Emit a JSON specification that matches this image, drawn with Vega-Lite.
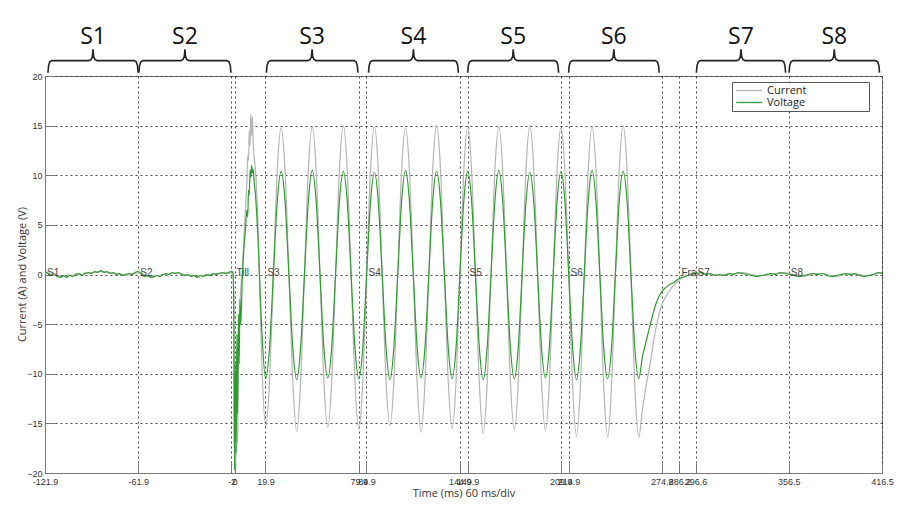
{
  "$schema": "https://vega.github.io/schema/vega-lite/v6.json",
  "autosize": {"type": "none"},
  "padding": {"left": 45, "top": 76, "right": 38, "bottom": 36},
  "width": 837,
  "height": 397,
  "background": "white",
  "datasets": {
    "waves": [
      {"t": -121.9, "Current": 0.3, "Voltage": 0.3},
      {"t": -120, "Current": 0.2, "Voltage": 0.1},
      {"t": -118, "Current": 0, "Voltage": -0.1},
      {"t": -116, "Current": -0.1, "Voltage": 0.1},
      {"t": -114, "Current": -0.1, "Voltage": -0.2},
      {"t": -112, "Current": -0.2, "Voltage": -0.3},
      {"t": -110, "Current": -0.2, "Voltage": -0.1},
      {"t": -108, "Current": -0.2, "Voltage": -0.3},
      {"t": -106, "Current": 0, "Voltage": -0.1},
      {"t": -104, "Current": -0.1, "Voltage": -0.2},
      {"t": -102, "Current": 0.1, "Voltage": 0},
      {"t": -100, "Current": 0, "Voltage": 0.1},
      {"t": -98, "Current": 0, "Voltage": -0.1},
      {"t": -96, "Current": 0.2, "Voltage": 0.1},
      {"t": -94, "Current": 0.1, "Voltage": 0.2},
      {"t": -92, "Current": 0.2, "Voltage": 0.1},
      {"t": -90, "Current": 0.2, "Voltage": 0.3},
      {"t": -88, "Current": 0.3, "Voltage": 0.2},
      {"t": -86, "Current": 0.3, "Voltage": 0.4},
      {"t": -84, "Current": 0.3, "Voltage": 0.2},
      {"t": -82, "Current": 0.2, "Voltage": 0.3},
      {"t": -80, "Current": 0.2, "Voltage": 0.1},
      {"t": -78, "Current": 0.1, "Voltage": 0.2},
      {"t": -76, "Current": 0.1, "Voltage": 0},
      {"t": -74, "Current": 0, "Voltage": 0.1},
      {"t": -72, "Current": 0, "Voltage": -0.1},
      {"t": -70, "Current": -0.1, "Voltage": 0},
      {"t": -68, "Current": 0, "Voltage": 0.1},
      {"t": -66, "Current": 0.1, "Voltage": 0},
      {"t": -64, "Current": 0.1, "Voltage": 0.2},
      {"t": -62, "Current": 0.2, "Voltage": 0.3},
      {"t": -60, "Current": 0.2, "Voltage": 0.1},
      {"t": -58, "Current": -0.1, "Voltage": -0.2},
      {"t": -56, "Current": -0.2, "Voltage": -0.1},
      {"t": -54, "Current": -0.2, "Voltage": -0.3},
      {"t": -52, "Current": -0.3, "Voltage": -0.2},
      {"t": -50, "Current": -0.1, "Voltage": -0.1},
      {"t": -48, "Current": -0.1, "Voltage": -0.2},
      {"t": -46, "Current": 0, "Voltage": 0},
      {"t": -44, "Current": 0, "Voltage": 0.1},
      {"t": -42, "Current": 0.1, "Voltage": 0},
      {"t": -40, "Current": 0.1, "Voltage": 0.2},
      {"t": -38, "Current": 0.2, "Voltage": 0.1},
      {"t": -36, "Current": 0.1, "Voltage": 0.2},
      {"t": -34, "Current": 0.1, "Voltage": 0},
      {"t": -32, "Current": 0, "Voltage": -0.1},
      {"t": -30, "Current": -0.1, "Voltage": 0},
      {"t": -28, "Current": -0.1, "Voltage": -0.2},
      {"t": -26, "Current": -0.2, "Voltage": -0.1},
      {"t": -24, "Current": -0.2, "Voltage": -0.3},
      {"t": -22, "Current": -0.1, "Voltage": -0.1},
      {"t": -20, "Current": -0.1, "Voltage": -0.2},
      {"t": -18, "Current": 0, "Voltage": 0},
      {"t": -16, "Current": 0, "Voltage": -0.1},
      {"t": -14, "Current": 0, "Voltage": 0.1},
      {"t": -12, "Current": 0.1, "Voltage": 0},
      {"t": -10, "Current": 0.1, "Voltage": 0.1},
      {"t": -8, "Current": 0.1, "Voltage": 0.2},
      {"t": -6, "Current": 0.2, "Voltage": 0.1},
      {"t": -4, "Current": 0.1, "Voltage": 0.2},
      {"t": -2, "Current": 0.2, "Voltage": 0.3},
      {"t": -1, "Current": 0.3, "Voltage": 0.2},
      {"t": -0.5, "Current": -2.0, "Voltage": -3.0},
      {"t": 0, "Current": -19.8, "Voltage": -19.6},
      {"t": 0.5, "Current": -14.0, "Voltage": -9.0},
      {"t": 1, "Current": -19.5, "Voltage": -18.0},
      {"t": 1.5, "Current": -9.0, "Voltage": -6.0},
      {"t": 2, "Current": -17.0, "Voltage": -14.0},
      {"t": 2.5, "Current": -7.0, "Voltage": -4.0},
      {"t": 3, "Current": -5.0, "Voltage": -9.0},
      {"t": 3.5, "Current": -3.0, "Voltage": -2.5},
      {"t": 4, "Current": -1.5, "Voltage": -5.0},
      {"t": 5, "Current": 0.5, "Voltage": -0.5},
      {"t": 6, "Current": 3.5, "Voltage": 2.5},
      {"t": 7, "Current": 6.5, "Voltage": 4.5},
      {"t": 8, "Current": 9.5, "Voltage": 6.5},
      {"t": 8.5, "Current": 12.0, "Voltage": 5.8},
      {"t": 9, "Current": 11.5, "Voltage": 8.5},
      {"t": 9.5, "Current": 14.5, "Voltage": 8.0},
      {"t": 10, "Current": 13.0, "Voltage": 10.5},
      {"t": 10.5, "Current": 16.2, "Voltage": 9.8},
      {"t": 11, "Current": 14.0, "Voltage": 11.0},
      {"t": 11.5, "Current": 15.9, "Voltage": 10.2},
      {"t": 12, "Current": 13.5, "Voltage": 10.6},
      {"t": 12.5, "Current": 12.0, "Voltage": 9.6},
      {"t": 13.5, "Current": 10.5, "Voltage": 8.0},
      {"t": 15, "Current": 5.5, "Voltage": 4.0},
      {"t": 17.5, "Current": -8.5, "Voltage": -5.5},
      {"t": 20, "Current": -15.3, "Voltage": -10.5},
      {"t": 22.5, "Current": -10.8, "Voltage": -7.4},
      {"t": 25, "Current": 0, "Voltage": 0},
      {"t": 27.5, "Current": 10.5, "Voltage": 7.4},
      {"t": 30, "Current": 14.8, "Voltage": 10.4},
      {"t": 32.5, "Current": 10.5, "Voltage": 7.4},
      {"t": 35, "Current": 0, "Voltage": 0},
      {"t": 37.5, "Current": -10.8, "Voltage": -7.4},
      {"t": 40, "Current": -15.8, "Voltage": -10.6},
      {"t": 42.5, "Current": -10.9, "Voltage": -7.4},
      {"t": 45, "Current": 0, "Voltage": 0},
      {"t": 47.5, "Current": 10.6, "Voltage": 7.4},
      {"t": 50, "Current": 14.9, "Voltage": 10.5},
      {"t": 52.5, "Current": 10.6, "Voltage": 7.4},
      {"t": 55, "Current": 0, "Voltage": 0},
      {"t": 57.5, "Current": -10.8, "Voltage": -7.4},
      {"t": 60, "Current": -15.4, "Voltage": -10.4},
      {"t": 62.5, "Current": -10.8, "Voltage": -7.4},
      {"t": 65, "Current": 0, "Voltage": 0},
      {"t": 67.5, "Current": 10.6, "Voltage": 7.4},
      {"t": 70, "Current": 15.0, "Voltage": 10.4},
      {"t": 72.5, "Current": 10.6, "Voltage": 7.4},
      {"t": 75, "Current": 0, "Voltage": 0},
      {"t": 77.5, "Current": -10.8, "Voltage": -7.4},
      {"t": 80, "Current": -15.6, "Voltage": -10.5},
      {"t": 82.5, "Current": -10.8, "Voltage": -7.4},
      {"t": 85, "Current": 0, "Voltage": 0},
      {"t": 87.5, "Current": 10.5, "Voltage": 7.3},
      {"t": 90, "Current": 14.9, "Voltage": 10.3},
      {"t": 92.5, "Current": 10.5, "Voltage": 7.3},
      {"t": 95, "Current": 0, "Voltage": 0},
      {"t": 97.5, "Current": -10.8, "Voltage": -7.4},
      {"t": 100, "Current": -15.2, "Voltage": -10.6},
      {"t": 102.5, "Current": -10.8, "Voltage": -7.4},
      {"t": 105, "Current": 0, "Voltage": 0},
      {"t": 107.5, "Current": 10.5, "Voltage": 7.4},
      {"t": 110, "Current": 14.8, "Voltage": 10.5},
      {"t": 112.5, "Current": 10.5, "Voltage": 7.4},
      {"t": 115, "Current": 0, "Voltage": 0},
      {"t": 117.5, "Current": -10.9, "Voltage": -7.4},
      {"t": 120, "Current": -15.9, "Voltage": -10.4},
      {"t": 122.5, "Current": -10.9, "Voltage": -7.4},
      {"t": 125, "Current": 0, "Voltage": 0},
      {"t": 127.5, "Current": 10.6, "Voltage": 7.4},
      {"t": 130, "Current": 15.0, "Voltage": 10.4},
      {"t": 132.5, "Current": 10.6, "Voltage": 7.4},
      {"t": 135, "Current": 0, "Voltage": 0},
      {"t": 137.5, "Current": -10.8, "Voltage": -7.4},
      {"t": 140, "Current": -15.5, "Voltage": -10.5},
      {"t": 142.5, "Current": -10.8, "Voltage": -7.4},
      {"t": 145, "Current": 0, "Voltage": 0},
      {"t": 147.5, "Current": 10.5, "Voltage": 7.4},
      {"t": 150, "Current": 14.9, "Voltage": 10.4},
      {"t": 152.5, "Current": 10.5, "Voltage": 7.4},
      {"t": 155, "Current": 0, "Voltage": 0},
      {"t": 157.5, "Current": -11.0, "Voltage": -7.4},
      {"t": 160, "Current": -16.0, "Voltage": -10.6},
      {"t": 162.5, "Current": -11.0, "Voltage": -7.4},
      {"t": 165, "Current": 0, "Voltage": 0},
      {"t": 167.5, "Current": 10.5, "Voltage": 7.4},
      {"t": 170, "Current": 14.9, "Voltage": 10.5},
      {"t": 172.5, "Current": 10.5, "Voltage": 7.4},
      {"t": 175, "Current": 0, "Voltage": 0},
      {"t": 177.5, "Current": -10.9, "Voltage": -7.4},
      {"t": 180, "Current": -15.6, "Voltage": -10.5},
      {"t": 182.5, "Current": -10.9, "Voltage": -7.4},
      {"t": 185, "Current": 0, "Voltage": 0},
      {"t": 187.5, "Current": 10.6, "Voltage": 7.3},
      {"t": 190, "Current": 15.0, "Voltage": 10.3},
      {"t": 192.5, "Current": 10.6, "Voltage": 7.3},
      {"t": 195, "Current": 0, "Voltage": 0},
      {"t": 197.5, "Current": -10.9, "Voltage": -7.4},
      {"t": 200, "Current": -15.7, "Voltage": -10.4},
      {"t": 202.5, "Current": -10.9, "Voltage": -7.4},
      {"t": 205, "Current": 0, "Voltage": 0},
      {"t": 207.5, "Current": 10.5, "Voltage": 7.4},
      {"t": 210, "Current": 14.8, "Voltage": 10.4},
      {"t": 212.5, "Current": 10.5, "Voltage": 7.4},
      {"t": 215, "Current": 0, "Voltage": 0},
      {"t": 217.5, "Current": -11.2, "Voltage": -7.4},
      {"t": 220, "Current": -16.3, "Voltage": -10.6},
      {"t": 222.5, "Current": -11.2, "Voltage": -7.4},
      {"t": 225, "Current": 0, "Voltage": 0},
      {"t": 227.5, "Current": 10.5, "Voltage": 7.4},
      {"t": 230, "Current": 14.9, "Voltage": 10.5},
      {"t": 232.5, "Current": 10.5, "Voltage": 7.4},
      {"t": 235, "Current": 0, "Voltage": 0},
      {"t": 237.5, "Current": -11.3, "Voltage": -7.4},
      {"t": 240, "Current": -16.4, "Voltage": -10.5},
      {"t": 242.5, "Current": -11.3, "Voltage": -7.4},
      {"t": 245, "Current": 0, "Voltage": 0},
      {"t": 247.5, "Current": 10.6, "Voltage": 7.4},
      {"t": 250, "Current": 15.0, "Voltage": 10.4},
      {"t": 252.5, "Current": 10.6, "Voltage": 7.4},
      {"t": 255, "Current": 0, "Voltage": 0},
      {"t": 257.5, "Current": -11.3, "Voltage": -7.4},
      {"t": 260, "Current": -16.4, "Voltage": -10.5},
      {"t": 262.5, "Current": -13.5, "Voltage": -8.2},
      {"t": 265, "Current": -11.0, "Voltage": -6.6},
      {"t": 267.5, "Current": -8.9, "Voltage": -5.0},
      {"t": 270, "Current": -6.3, "Voltage": -3.5},
      {"t": 272.5, "Current": -4.4, "Voltage": -2.4},
      {"t": 275, "Current": -3.0, "Voltage": -1.7},
      {"t": 277.5, "Current": -2.2, "Voltage": -1.3},
      {"t": 280, "Current": -1.6, "Voltage": -1.0},
      {"t": 282.5, "Current": -1.1, "Voltage": -0.8},
      {"t": 285, "Current": -0.7, "Voltage": -0.5},
      {"t": 287.5, "Current": -0.4, "Voltage": -0.3},
      {"t": 290, "Current": -0.2, "Voltage": -0.2},
      {"t": 292.5, "Current": -0.1, "Voltage": 0},
      {"t": 295, "Current": 0, "Voltage": 0.1},
      {"t": 297, "Current": 0, "Voltage": 0.1},
      {"t": 300, "Current": 0.1, "Voltage": 0.2},
      {"t": 303, "Current": 0.1, "Voltage": 0},
      {"t": 306, "Current": 0, "Voltage": 0.1},
      {"t": 309, "Current": 0, "Voltage": -0.1},
      {"t": 312, "Current": -0.1, "Voltage": 0},
      {"t": 315, "Current": 0, "Voltage": -0.1},
      {"t": 318, "Current": 0, "Voltage": 0.1},
      {"t": 321, "Current": 0.1, "Voltage": 0},
      {"t": 324, "Current": 0.1, "Voltage": 0.2},
      {"t": 327, "Current": 0.2, "Voltage": 0.1},
      {"t": 330, "Current": 0.1, "Voltage": 0},
      {"t": 333, "Current": 0, "Voltage": -0.1},
      {"t": 336, "Current": -0.1, "Voltage": -0.2},
      {"t": 339, "Current": -0.1, "Voltage": -0.1},
      {"t": 342, "Current": -0.1, "Voltage": 0},
      {"t": 345, "Current": 0, "Voltage": 0.1},
      {"t": 348, "Current": 0.1, "Voltage": 0},
      {"t": 351, "Current": 0.1, "Voltage": 0.2},
      {"t": 354, "Current": 0.2, "Voltage": 0.1},
      {"t": 357, "Current": 0.1, "Voltage": 0},
      {"t": 360, "Current": 0, "Voltage": -0.1},
      {"t": 363, "Current": -0.1, "Voltage": -0.2},
      {"t": 366, "Current": -0.2, "Voltage": -0.1},
      {"t": 369, "Current": -0.1, "Voltage": 0},
      {"t": 372, "Current": 0, "Voltage": 0.1},
      {"t": 375, "Current": 0.1, "Voltage": 0},
      {"t": 378, "Current": 0.1, "Voltage": 0.1},
      {"t": 381, "Current": 0, "Voltage": -0.1},
      {"t": 384, "Current": -0.1, "Voltage": -0.2},
      {"t": 387, "Current": -0.2, "Voltage": -0.1},
      {"t": 390, "Current": -0.1, "Voltage": 0},
      {"t": 393, "Current": 0, "Voltage": 0.1},
      {"t": 396, "Current": 0.1, "Voltage": 0},
      {"t": 399, "Current": 0, "Voltage": 0.1},
      {"t": 402, "Current": 0, "Voltage": -0.1},
      {"t": 405, "Current": -0.1, "Voltage": -0.2},
      {"t": 408, "Current": -0.1, "Voltage": -0.1},
      {"t": 411, "Current": 0, "Voltage": 0},
      {"t": 414, "Current": 0.1, "Voltage": 0.2},
      {"t": 416.5, "Current": 0.2, "Voltage": 0.1}
    ],
    "markers": [
      {"lab": "S1", "t": -121.9},
      {"lab": "S2", "t": -61.9},
      {"lab": "Till", "t": 0},
      {"lab": "S3", "t": 19.9},
      {"lab": "S4", "t": 84.9},
      {"lab": "S5", "t": 149.9},
      {"lab": "S6", "t": 214.9},
      {"lab": "Fra", "t": 286.2},
      {"lab": "S7", "t": 296.6},
      {"lab": "S8", "t": 356.5}
    ],
    "braceLabels": [
      {"lab": "S1", "t": -91},
      {"lab": "S2", "t": -31.9},
      {"lab": "S3", "t": 49.9},
      {"lab": "S4", "t": 115.1},
      {"lab": "S5", "t": 179.3},
      {"lab": "S6", "t": 244},
      {"lab": "S7", "t": 325.8},
      {"lab": "S8", "t": 385.8}
    ],
    "braces": [
      {"b": "S1", "t": -120, "y": 20.33}, {"b": "S1", "t": -119.6, "y": 21.05}, {"b": "S1", "t": -118.8, "y": 21.42}, {"b": "S1", "t": -117.4, "y": 21.55},
      {"b": "S1", "t": -93.6, "y": 21.55}, {"b": "S1", "t": -92.2, "y": 21.68}, {"b": "S1", "t": -91.4, "y": 21.95}, {"b": "S1", "t": -91, "y": 22.7},
      {"b": "S1", "t": -90.6, "y": 21.95}, {"b": "S1", "t": -89.8, "y": 21.68}, {"b": "S1", "t": -88.4, "y": 21.55}, {"b": "S1", "t": -64.6, "y": 21.55},
      {"b": "S1", "t": -63.2, "y": 21.42}, {"b": "S1", "t": -62.4, "y": 21.05}, {"b": "S1", "t": -62, "y": 20.33},
      {"b": "S2", "t": -61.5, "y": 20.33}, {"b": "S2", "t": -61.1, "y": 21.05}, {"b": "S2", "t": -60.3, "y": 21.42}, {"b": "S2", "t": -58.9, "y": 21.55},
      {"b": "S2", "t": -34.5, "y": 21.55}, {"b": "S2", "t": -33.1, "y": 21.68}, {"b": "S2", "t": -32.3, "y": 21.95}, {"b": "S2", "t": -31.9, "y": 22.7},
      {"b": "S2", "t": -31.5, "y": 21.95}, {"b": "S2", "t": -30.7, "y": 21.68}, {"b": "S2", "t": -29.3, "y": 21.55}, {"b": "S2", "t": -4.9, "y": 21.55},
      {"b": "S2", "t": -3.5, "y": 21.42}, {"b": "S2", "t": -2.7, "y": 21.05}, {"b": "S2", "t": -2.3, "y": 20.33},
      {"b": "S3", "t": 20.5, "y": 20.33}, {"b": "S3", "t": 20.9, "y": 21.05}, {"b": "S3", "t": 21.7, "y": 21.42}, {"b": "S3", "t": 23.1, "y": 21.55},
      {"b": "S3", "t": 47.3, "y": 21.55}, {"b": "S3", "t": 48.7, "y": 21.68}, {"b": "S3", "t": 49.5, "y": 21.95}, {"b": "S3", "t": 49.9, "y": 22.7},
      {"b": "S3", "t": 50.3, "y": 21.95}, {"b": "S3", "t": 51.1, "y": 21.68}, {"b": "S3", "t": 52.5, "y": 21.55}, {"b": "S3", "t": 76.8, "y": 21.55},
      {"b": "S3", "t": 78.2, "y": 21.42}, {"b": "S3", "t": 79.0, "y": 21.05}, {"b": "S3", "t": 79.4, "y": 20.33},
      {"b": "S4", "t": 86.2, "y": 20.33}, {"b": "S4", "t": 86.6, "y": 21.05}, {"b": "S4", "t": 87.4, "y": 21.42}, {"b": "S4", "t": 88.8, "y": 21.55},
      {"b": "S4", "t": 112.5, "y": 21.55}, {"b": "S4", "t": 113.9, "y": 21.68}, {"b": "S4", "t": 114.7, "y": 21.95}, {"b": "S4", "t": 115.1, "y": 22.7},
      {"b": "S4", "t": 115.5, "y": 21.95}, {"b": "S4", "t": 116.3, "y": 21.68}, {"b": "S4", "t": 117.7, "y": 21.55}, {"b": "S4", "t": 141.4, "y": 21.55},
      {"b": "S4", "t": 142.8, "y": 21.42}, {"b": "S4", "t": 143.6, "y": 21.05}, {"b": "S4", "t": 144, "y": 20.33},
      {"b": "S5", "t": 150, "y": 20.33}, {"b": "S5", "t": 150.4, "y": 21.05}, {"b": "S5", "t": 151.2, "y": 21.42}, {"b": "S5", "t": 152.6, "y": 21.55},
      {"b": "S5", "t": 176.7, "y": 21.55}, {"b": "S5", "t": 178.1, "y": 21.68}, {"b": "S5", "t": 178.9, "y": 21.95}, {"b": "S5", "t": 179.3, "y": 22.7},
      {"b": "S5", "t": 179.7, "y": 21.95}, {"b": "S5", "t": 180.5, "y": 21.68}, {"b": "S5", "t": 181.9, "y": 21.55}, {"b": "S5", "t": 205.9, "y": 21.55},
      {"b": "S5", "t": 207.3, "y": 21.42}, {"b": "S5", "t": 208.1, "y": 21.05}, {"b": "S5", "t": 208.5, "y": 20.33},
      {"b": "S6", "t": 214.9, "y": 20.33}, {"b": "S6", "t": 215.3, "y": 21.05}, {"b": "S6", "t": 216.1, "y": 21.42}, {"b": "S6", "t": 217.5, "y": 21.55},
      {"b": "S6", "t": 241.4, "y": 21.55}, {"b": "S6", "t": 242.8, "y": 21.68}, {"b": "S6", "t": 243.6, "y": 21.95}, {"b": "S6", "t": 244, "y": 22.7},
      {"b": "S6", "t": 244.4, "y": 21.95}, {"b": "S6", "t": 245.2, "y": 21.68}, {"b": "S6", "t": 246.6, "y": 21.55}, {"b": "S6", "t": 270.6, "y": 21.55},
      {"b": "S6", "t": 272.0, "y": 21.42}, {"b": "S6", "t": 272.8, "y": 21.05}, {"b": "S6", "t": 273.2, "y": 20.33},
      {"b": "S7", "t": 297.1, "y": 20.33}, {"b": "S7", "t": 297.5, "y": 21.05}, {"b": "S7", "t": 298.3, "y": 21.42}, {"b": "S7", "t": 299.7, "y": 21.55},
      {"b": "S7", "t": 323.2, "y": 21.55}, {"b": "S7", "t": 324.6, "y": 21.68}, {"b": "S7", "t": 325.4, "y": 21.95}, {"b": "S7", "t": 325.8, "y": 22.7},
      {"b": "S7", "t": 326.2, "y": 21.95}, {"b": "S7", "t": 327.0, "y": 21.68}, {"b": "S7", "t": 328.4, "y": 21.55}, {"b": "S7", "t": 351.9, "y": 21.55},
      {"b": "S7", "t": 353.3, "y": 21.42}, {"b": "S7", "t": 354.1, "y": 21.05}, {"b": "S7", "t": 354.5, "y": 20.33},
      {"b": "S8", "t": 356.7, "y": 20.33}, {"b": "S8", "t": 357.1, "y": 21.05}, {"b": "S8", "t": 357.9, "y": 21.42}, {"b": "S8", "t": 359.3, "y": 21.55},
      {"b": "S8", "t": 383.2, "y": 21.55}, {"b": "S8", "t": 384.6, "y": 21.68}, {"b": "S8", "t": 385.4, "y": 21.95}, {"b": "S8", "t": 385.8, "y": 22.7},
      {"b": "S8", "t": 386.2, "y": 21.95}, {"b": "S8", "t": 387.0, "y": 21.68}, {"b": "S8", "t": 388.4, "y": 21.55}, {"b": "S8", "t": 412.3, "y": 21.55},
      {"b": "S8", "t": 413.7, "y": 21.42}, {"b": "S8", "t": 414.5, "y": 21.05}, {"b": "S8", "t": 414.9, "y": 20.33}
    ]
  },
  "encoding": {
    "x": {
      "field": "t", "type": "quantitative",
      "scale": {"domain": [-121.9, 416.5], "nice": false, "zero": false},
      "axis": {
        "title": "Time (ms) 60 ms/div",
        "values": [-121.9, -61.9, -2, 0, 19.9, 79.9, 84.9, 144.9, 149.9, 209.9, 214.9, 274.8, 286.2, 296.6, 356.5, 416.5],
        "labelExpr": "'' + datum.value",
        "labelOverlap": false,
        "labelFlush": false,
        "labelBound": false,
        "labelPadding": 14,
        "titleY": 20,
        "titleBaseline": "middle"
      }
    }
  },
  "layer": [
    {
      "data": {"name": "waves"},
      "transform": [{"fold": ["Current", "Voltage"], "as": ["series", "val"]}],
      "mark": {"type": "line", "interpolate": "monotone", "strokeWidth": 1.2, "clip": true},
      "encoding": {
        "y": {
          "field": "val", "type": "quantitative",
          "scale": {"domain": [-20, 20], "nice": false},
          "axis": {
            "title": "Current (A) and Voltage (V)",
            "values": [-20, -15, -10, -5, 0, 5, 10, 15, 20],
            "labelPadding": 13,
            "titleX": -23,
            "titleY": 198,
            "titleBaseline": "middle"
          }
        },
        "color": {
          "field": "series", "type": "nominal",
          "scale": {"domain": ["Current", "Voltage"], "range": ["#b4b4b4", "#2e9b2e"]},
          "legend": {
            "title": null,
            "orient": "none",
            "legendX": 687,
            "legendY": 6,
            "strokeColor": "#555",
            "fillColor": "white",
            "padding": 3,
            "symbolType": "M-1,0H5",
            "symbolSize": 75,
            "symbolStrokeWidth": 1.3,
            "labelFontSize": 11,
            "labelFont": "Open Sans",
            "labelColor": "#222",
            "labelOffset": 21,
            "rowPadding": 0,
            "labelLimit": 200,
            "labelExpr": "datum.label + ' \u2800\u2800\u2800\u2800\u2800\u2800\u2800'"
          }
        }
      }
    },
    {
      "data": {"name": "markers"},
      "mark": {"type": "text", "align": "left", "baseline": "middle", "dx": 2, "dy": -2, "fontSize": 10, "font": "Liberation Sans", "color": "#444"},
      "encoding": {
        "y": {"datum": 0, "type": "quantitative"},
        "text": {"field": "lab"}
      }
    },
    {
      "data": {"name": "braces"},
      "mark": {"type": "line", "color": "#222", "strokeWidth": 1.6, "clip": false},
      "encoding": {
        "y": {"field": "y", "type": "quantitative"},
        "detail": {"field": "b"}
      }
    },
    {
      "data": {"name": "braceLabels"},
      "mark": {"type": "text", "align": "center", "baseline": "middle", "fontSize": 23, "font": "Open Sans", "color": "#111", "clip": false},
      "encoding": {
        "y": {"datum": 23.96, "type": "quantitative"},
        "text": {"field": "lab"}
      }
    }
  ],
  "resolve": {"scale": {"y": "shared"}},
  "config": {
    "view": {"stroke": "#777", "strokeWidth": 1},
    "axis": {
      "grid": true,
      "gridColor": "#333",
      "gridDash": [2, 3],
      "gridOpacity": 0.9,
      "domainColor": "#777",
      "tickColor": "#777",
      "tickSize": -10,
      "labelFont": "Liberation Sans",
      "labelFontSize": 9,
      "labelColor": "#333",
      "titleFont": "Open Sans",
      "titleFontSize": 11,
      "titleFontWeight": "normal",
      "titleColor": "#333"
    }
  }
}
